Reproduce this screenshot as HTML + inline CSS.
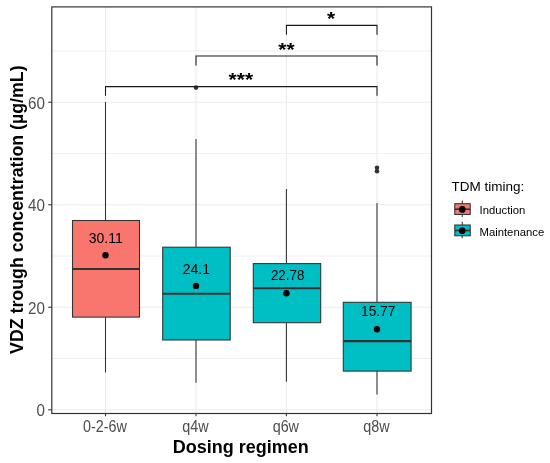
<!DOCTYPE html><html><head><meta charset="utf-8"><style>html,body{margin:0;padding:0;background:#fff;overflow:hidden}svg{display:block}text{font-family:"Liberation Sans",Arial,sans-serif}</style></head><body>
<svg width="550" height="463" viewBox="0 0 550 463">
<rect x="0" y="0" width="550" height="463" fill="#fff"/>
<line x1="51.8" x2="431.5" y1="358.54" y2="358.54" stroke="#EBEBEB" stroke-width="0.75"/>
<line x1="51.8" x2="431.5" y1="256.00" y2="256.00" stroke="#EBEBEB" stroke-width="0.75"/>
<line x1="51.8" x2="431.5" y1="153.48" y2="153.48" stroke="#EBEBEB" stroke-width="0.75"/>
<line x1="51.8" x2="431.5" y1="50.94" y2="50.94" stroke="#EBEBEB" stroke-width="0.75"/>
<line x1="51.8" x2="431.5" y1="409.80" y2="409.80" stroke="#EBEBEB" stroke-width="1.07"/>
<line x1="51.8" x2="431.5" y1="307.27" y2="307.27" stroke="#EBEBEB" stroke-width="1.07"/>
<line x1="51.8" x2="431.5" y1="204.74" y2="204.74" stroke="#EBEBEB" stroke-width="1.07"/>
<line x1="51.8" x2="431.5" y1="102.21" y2="102.21" stroke="#EBEBEB" stroke-width="1.07"/>
<line x1="105.50" x2="105.50" y1="6.9" y2="413.5" stroke="#EBEBEB" stroke-width="1.07"/>
<line x1="196.00" x2="196.00" y1="6.9" y2="413.5" stroke="#EBEBEB" stroke-width="1.07"/>
<line x1="286.40" x2="286.40" y1="6.9" y2="413.5" stroke="#EBEBEB" stroke-width="1.07"/>
<line x1="377.00" x2="377.00" y1="6.9" y2="413.5" stroke="#EBEBEB" stroke-width="1.07"/>
<line x1="105.5" x2="105.5" y1="102.0" y2="220.5" stroke="#333333" stroke-width="1.07"/>
<line x1="105.5" x2="105.5" y1="317.1" y2="372.5" stroke="#333333" stroke-width="1.07"/>
<rect x="72.5" y="220.5" width="67.00" height="96.60" fill="#F8766D" stroke="#333333" stroke-width="1.07"/>
<line x1="72.5" x2="139.5" y1="269.0" y2="269.0" stroke="#333333" stroke-width="2.1"/>
<circle cx="105.5" cy="255.3" r="3.2" fill="#000"/>
<text x="105.80" y="242.80" font-size="14" text-anchor="middle" fill="#000">30.11</text>
<line x1="196.0" x2="196.0" y1="139.1" y2="247.2" stroke="#333333" stroke-width="1.07"/>
<line x1="196.0" x2="196.0" y1="340.0" y2="382.8" stroke="#333333" stroke-width="1.07"/>
<rect x="162.7" y="247.2" width="67.50" height="92.80" fill="#00BFC4" stroke="#333333" stroke-width="1.07"/>
<line x1="162.7" x2="230.2" y1="293.8" y2="293.8" stroke="#333333" stroke-width="2.1"/>
<circle cx="196.0" cy="87.6" r="2.3" fill="#333333"/>
<circle cx="196.0" cy="285.9" r="3.2" fill="#000"/>
<text x="196.30" y="273.60" font-size="14" text-anchor="middle" fill="#000">24.1</text>
<line x1="286.4" x2="286.4" y1="189.0" y2="263.6" stroke="#333333" stroke-width="1.07"/>
<line x1="286.4" x2="286.4" y1="322.7" y2="381.75" stroke="#333333" stroke-width="1.07"/>
<rect x="253.3" y="263.6" width="67.40" height="59.10" fill="#00BFC4" stroke="#333333" stroke-width="1.07"/>
<line x1="253.3" x2="320.7" y1="288.3" y2="288.3" stroke="#333333" stroke-width="2.1"/>
<circle cx="286.4" cy="293.2" r="3.2" fill="#000"/>
<text transform="translate(287.60 280.00) scale(0.955 1.0)" font-size="14" text-anchor="middle" fill="#000">22.78</text>
<line x1="377.0" x2="377.0" y1="203.1" y2="302.3" stroke="#333333" stroke-width="1.07"/>
<line x1="377.0" x2="377.0" y1="371.1" y2="394.6" stroke="#333333" stroke-width="1.07"/>
<rect x="343.3" y="302.3" width="67.80" height="68.80" fill="#00BFC4" stroke="#333333" stroke-width="1.07"/>
<line x1="343.3" x2="411.1" y1="341.1" y2="341.1" stroke="#333333" stroke-width="2.1"/>
<circle cx="377.0" cy="167.8" r="2.3" fill="#333333"/>
<circle cx="377.0" cy="171.3" r="2.3" fill="#333333"/>
<circle cx="377.0" cy="329.3" r="3.2" fill="#000"/>
<text transform="translate(378.20 315.80) scale(0.98 1.0)" font-size="14" text-anchor="middle" fill="#000">15.77</text>
<path d="M105.5 95.8 V86.6 H377.0 V95.8" fill="none" stroke="#1a1a1a" stroke-width="1.07"/>
<text transform="translate(240.85 86.30) scale(1.0 0.88)" font-size="21" text-anchor="middle" fill="#000" font-weight="bold">***</text>
<path d="M196.0 65.5 V56.0 H377.0 V65.5" fill="none" stroke="#1a1a1a" stroke-width="1.07"/>
<text transform="translate(286.40 55.50) scale(1.0 0.88)" font-size="21" text-anchor="middle" fill="#000" font-weight="bold">**</text>
<path d="M286.4 34.8 V25.4 H377.0 V34.8" fill="none" stroke="#1a1a1a" stroke-width="1.07"/>
<text transform="translate(331.10 25.10) scale(1.0 0.88)" font-size="21" text-anchor="middle" fill="#000" font-weight="bold">*</text>
<rect x="51.8" y="6.9" width="379.70" height="406.60" fill="none" stroke="#333333" stroke-width="1.2"/>
<line x1="48.20" x2="51.8" y1="409.80" y2="409.80" stroke="#333333" stroke-width="1.07"/>
<text transform="translate(44.90 416.30) scale(1.0 1.035)" font-size="15.2" text-anchor="end" fill="#4D4D4D">0</text>
<line x1="48.20" x2="51.8" y1="307.27" y2="307.27" stroke="#333333" stroke-width="1.07"/>
<text transform="translate(44.90 313.77) scale(1.0 1.035)" font-size="15.2" text-anchor="end" fill="#4D4D4D">20</text>
<line x1="48.20" x2="51.8" y1="204.74" y2="204.74" stroke="#333333" stroke-width="1.07"/>
<text transform="translate(44.90 211.24) scale(1.0 1.035)" font-size="15.2" text-anchor="end" fill="#4D4D4D">40</text>
<line x1="48.20" x2="51.8" y1="102.21" y2="102.21" stroke="#333333" stroke-width="1.07"/>
<text transform="translate(44.90 108.71) scale(1.0 1.035)" font-size="15.2" text-anchor="end" fill="#4D4D4D">60</text>
<line x1="105.50" x2="105.50" y1="413.5" y2="416.2" stroke="#333333" stroke-width="1.07"/>
<text transform="translate(104.90 432.20) scale(0.945 1.08)" font-size="15.2" text-anchor="middle" fill="#4D4D4D">0-2-6w</text>
<line x1="196.00" x2="196.00" y1="413.5" y2="416.2" stroke="#333333" stroke-width="1.07"/>
<text transform="translate(195.40 432.20) scale(0.945 1.08)" font-size="15.2" text-anchor="middle" fill="#4D4D4D">q4w</text>
<line x1="286.40" x2="286.40" y1="413.5" y2="416.2" stroke="#333333" stroke-width="1.07"/>
<text transform="translate(285.80 432.20) scale(0.945 1.08)" font-size="15.2" text-anchor="middle" fill="#4D4D4D">q6w</text>
<line x1="377.00" x2="377.00" y1="413.5" y2="416.2" stroke="#333333" stroke-width="1.07"/>
<text transform="translate(376.40 432.20) scale(0.945 1.08)" font-size="15.2" text-anchor="middle" fill="#4D4D4D">q8w</text>
<text x="240.7" y="452.9" font-size="18" font-weight="bold" text-anchor="middle" fill="#000">Dosing regimen</text>
<text transform="translate(22.6 209.7) rotate(-90)" x="0" y="0" font-size="17.78" font-weight="bold" text-anchor="middle" fill="#000">VDZ trough concentration (µg/mL)</text>
<text x="451.60" y="191.30" font-size="13.5" text-anchor="start" fill="#000">TDM timing:</text>
<line x1="462.25" x2="462.25" y1="200.40" y2="216.90" stroke="#333333" stroke-width="1.07"/>
<rect x="454.8" y="203.70" width="15.4" height="10.75" fill="#F8766D" stroke="#333333" stroke-width="1.07"/>
<line x1="454.8" x2="470.2" y1="209.20" y2="209.20" stroke="#333333" stroke-width="1.6"/>
<circle cx="462.25" cy="209.40" r="3.35" fill="#000"/>
<text x="479.5" y="214.40" font-size="11.3" fill="#000">Induction</text>
<line x1="462.25" x2="462.25" y1="221.70" y2="238.20" stroke="#333333" stroke-width="1.07"/>
<rect x="454.8" y="225.00" width="15.4" height="10.75" fill="#00BFC4" stroke="#333333" stroke-width="1.07"/>
<line x1="454.8" x2="470.2" y1="230.50" y2="230.50" stroke="#333333" stroke-width="1.6"/>
<circle cx="462.25" cy="230.70" r="3.35" fill="#000"/>
<text x="479.5" y="235.70" font-size="11.3" fill="#000">Maintenance</text>
</svg></body></html>
